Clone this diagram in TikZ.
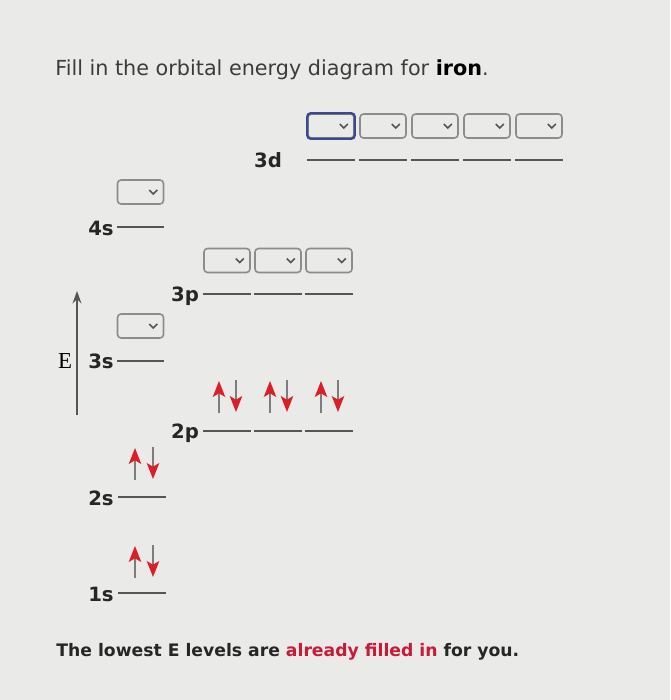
\documentclass[tikz,border=0pt]{standalone}
\usepackage{fontspec}
\setmainfont{DejaVu Sans}
\newfontfamily\serifE{Liberation Serif}
\usetikzlibrary{arrows.meta}

\definecolor{paper}{RGB}{234,234,232}
\definecolor{levelgray}{RGB}{85,85,85}
\definecolor{boxgray}{RGB}{140,140,140}
\definecolor{focusblue}{RGB}{62,72,140}
\definecolor{spinred}{RGB}{220,30,40}
\definecolor{shaftgray}{RGB}{125,125,125}
\definecolor{hintred}{RGB}{200,25,55}
\definecolor{inkgray}{RGB}{60,60,60}

\tikzset{
  dropbox/.style={draw=boxgray, line width=0.9pt, rounded corners=2pt,
    minimum width=0.92cm, minimum height=0.48cm, inner sep=0pt},
  chev/.style={draw=levelgray, line width=0.9pt},
  level/.style={draw=levelgray, line width=1.3pt},
  orblabel/.style={font=\bfseries\fontsize{11.2}{13}\selectfont, text=black!85, inner sep=0pt},
  spinup/.style={draw=shaftgray, line width=1.5pt, -{Stealth[spinred, length=9pt, width=7pt, inset=2pt]}},
  spindown/.style={draw=shaftgray, line width=1.5pt, -{Stealth[spinred, length=9pt, width=7pt, inset=2pt]}}
}

\begin{document}
\begin{tikzpicture}[x=0.02cm, y=-0.02cm]

	% Background
	\fill[paper] (0,0) rectangle (670,700);
	\useasboundingbox (0,0) rectangle (670,700);

	% Question
	\node[anchor=west, inner sep=0pt, text=inkgray, font=\fontsize{11.8}{14}\selectfont] (question) at (55,70)
		{Fill in the orbital energy diagram for \textbf{\color{black}iron}.};

	% 3d
	\node[orblabel] (l3d) at (268,160) {3d};
	\foreach \i/\x in {1/331, 2/383, 3/435, 4/487, 5/539} {
		\draw[level] (\x-24,160) -- (\x+24,160);
		\node[dropbox] (d\i) at (\x,126) {};
		\draw[chev] ([xshift=-0.3cm, yshift=0.04cm]d\i.east) -- ++(0.08cm,-0.08cm) -- ++(0.08cm,0.08cm);
	}
	\draw[focusblue, line width=1.3pt, rounded corners=2pt] (d1.south west) rectangle (d1.north east);

	% 4s
	\node[orblabel] (l4s) at (101,228) {4s};
	\draw[level] (117,227) -- (164,227);
	\node[dropbox] (s4) at (140.5,192) {};
	\draw[chev] ([xshift=-0.3cm, yshift=0.04cm]s4.east) -- ++(0.08cm,-0.08cm) -- ++(0.08cm,0.08cm);

	% 3s and energy axis
	\node[orblabel] (l3s) at (101,361) {3s};
	\draw[level] (117,361) -- (164,361);
	\node[dropbox] (s3) at (140.5,326) {};
	\draw[chev] ([xshift=-0.3cm, yshift=0.04cm]s3.east) -- ++(0.08cm,-0.08cm) -- ++(0.08cm,0.08cm);
	\node[inner sep=0pt, font=\serifE\fontsize{13}{15}\selectfont] (energy) at (65,361) {E};
	\coordinate (axisbot) at (77,415);
	\coordinate (axistop) at (77,291);
	\draw[levelgray, line width=1.1pt, -{Stealth[length=7pt, width=5pt]}] (axisbot) -- (axistop);

	% 3p
	\node[orblabel] (l3p) at (185,296) {3p};
	\foreach \i/\x in {1/227, 2/278, 3/329} {
		\draw[level] (\x-24,294) -- (\x+24,294);
		\node[dropbox] (p\i) at (\x,260.5) {};
		\draw[chev] ([xshift=-0.3cm, yshift=0.04cm]p\i.east) -- ++(0.08cm,-0.08cm) -- ++(0.08cm,0.08cm);
	}

	% 2p
	\node[orblabel] (l2p) at (185,433) {2p};
	\foreach \x in {227, 278, 329} {
		\draw[level] (\x-24,431) -- (\x+24,431);
		\draw[spinup] (\x-8,413) -- (\x-8,381);
		\draw[spindown] (\x+9,380) -- (\x+9,412);
	}

	% 2s
	\node[orblabel] (l2s) at (101,498) {2s};
	\draw[level] (118,497) -- (166,497);
	\draw[spinup] (135,480) -- (135,448);
	\draw[spindown] (153,447) -- (153,479);

	% 1s
	\node[orblabel] (l1s) at (101,594) {1s};
	\draw[level] (118,593) -- (166,593);
	\draw[spinup] (135,578) -- (135,546);
	\draw[spindown] (153,545) -- (153,577);

	% Hint
	\node[anchor=west, inner sep=0pt, font=\bfseries\fontsize{9.8}{12}\selectfont, text=black!85] (hint) at (56,652)
		{The lowest E levels are \textcolor{hintred}{already filled in} for you.};

\end{tikzpicture}
\end{document}
